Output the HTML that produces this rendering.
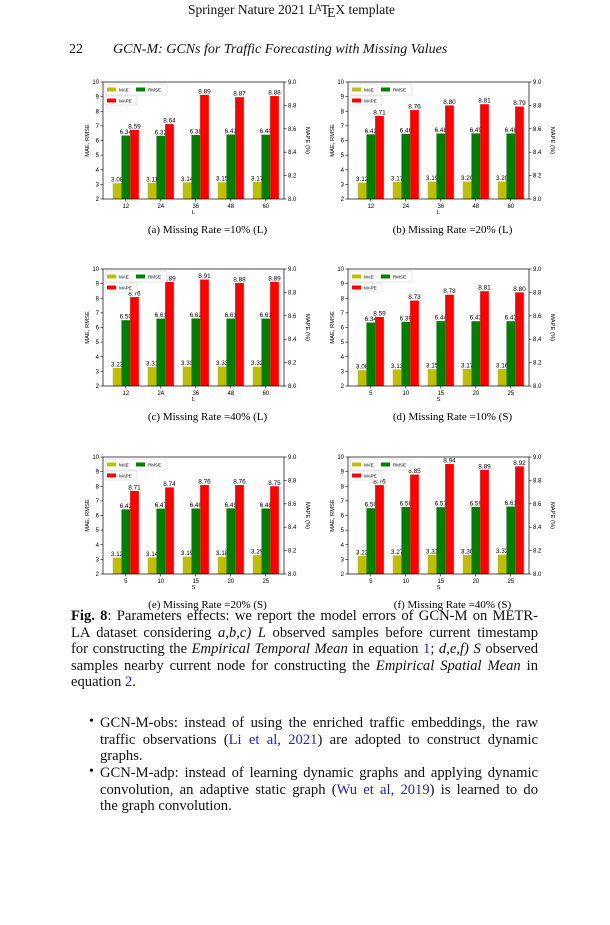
<!DOCTYPE html>
<html><head><meta charset="utf-8"><style>
html,body{margin:0;padding:0;background:#fff;}
body{width:610px;height:925px;position:relative;overflow:hidden;font-family:"Liberation Serif",serif;color:#111;}
.t{position:absolute;white-space:nowrap;}
.p{position:absolute;left:71px;width:467px;font-size:14.6px;line-height:16.5px;text-align:justify;}
.p span.l{display:block;text-align-last:justify;}
a{color:#2222cc;text-decoration:none;}
svg{position:absolute;left:0;top:0;}
</style></head><body>
<div class="t" style="left:188px;top:2px;font-size:13.5px;">Springer Nature 2021 L<span style="font-size:10px;position:relative;top:-3px;margin-left:-2px;margin-right:-1px">A</span>T<span style="position:relative;top:3px;margin-left:-2px">E</span>X template</div>
<div class="t" style="left:69px;top:42px;font-size:14px;">22</div>
<div class="t" style="left:113px;top:42px;font-size:14px;font-style:italic;">GCN-M: GCNs for Traffic Forecasting with Missing Values</div>
<svg id="s" width="610" height="925" font-family="Liberation Sans, sans-serif"></svg>
<div class="p" style="top:608px;">
<span class="l"><b>Fig. 8</b>: Parameters effects: we report the model errors of GCN-M on METR-</span>
<span class="l">LA dataset considering <i>a,b,c) L</i> observed samples before current timestamp</span>
<span class="l">for constructing the <i>Empirical Temporal Mean</i> in equation <a>1</a>; <i>d,e,f) S</i> observed</span>
<span class="l">samples nearby current node for constructing the <i>Empirical Spatial Mean</i> in</span>
<span>equation <a>2</a>.</span>
</div>
<div class="t" style="left:89px;top:714px;font-size:14px;">•</div>
<div class="p" style="top:715px;left:100px;width:438px;">
<span class="l">GCN-M-obs: instead of using the enriched traffic embeddings, the raw</span>
<span class="l">traffic observations (<a>Li et al, 2021</a>) are adopted to construct dynamic</span>
<span>graphs.</span></div>
<div class="t" style="left:89px;top:764px;font-size:14px;">•</div>
<div class="p" style="top:765px;left:100px;width:438px;">
<span class="l">GCN-M-adp: instead of learning dynamic graphs and applying dynamic</span>
<span class="l">convolution, an adaptive static graph (<a>Wu et al, 2019</a>) is learned to do</span>
<span>the graph convolution.</span></div>
<script>
const C=[
{x:103,y:82,t:[12,24,36,48,60],xl:'L',cap:'(a) Missing Rate =10% (L)',m:[3.08,3.11,3.14,3.15,3.17],r:[6.34,6.32,6.38,6.41,6.40],p:[8.59,8.64,8.89,8.87,8.88]},
{x:348,y:82,t:[12,24,36,48,60],xl:'L',cap:'(b) Missing Rate =20% (L)',m:[3.12,3.17,3.19,3.20,3.20],r:[6.42,6.46,6.48,6.49,6.48],p:[8.71,8.76,8.80,8.81,8.79]},
{x:103,y:269,t:[12,24,36,48,60],xl:'L',cap:'(c) Missing Rate =40% (L)',m:[3.23,3.31,3.33,3.33,3.32],r:[6.50,6.61,6.62,6.61,6.61],p:[8.76,8.89,8.91,8.88,8.89]},
{x:348,y:269,t:[5,10,15,20,25],xl:'S',cap:'(d) Missing Rate =10% (S)',m:[3.08,3.13,3.15,3.17,3.16],r:[6.34,6.39,6.44,6.43,6.43],p:[8.59,8.73,8.78,8.81,8.80]},
{x:103,y:457,t:[5,10,15,20,25],xl:'S',cap:'(e) Missing Rate =20% (S)',m:[3.12,3.14,3.19,3.18,3.29],r:[6.42,6.47,6.48,6.49,6.48],p:[8.71,8.74,8.76,8.76,8.75]},
{x:348,y:457,t:[5,10,15,20,25],xl:'S',cap:'(f) Missing Rate =40% (S)',m:[3.23,3.27,3.31,3.30,3.32],r:[6.50,6.58,6.57,6.59,6.61],p:[8.76,8.85,8.94,8.89,8.92]}];
let h='';const W=181,H=117,bw=8.7;
for(const c of C){
 const yl=v=>c.y+H-(v-2)/8*H, yr=v=>c.y+H-(v-8)*H;
 for(let i=0;i<5;i++){
  const g=c.x+22.8+35*i;
  const bars=[[c.m[i],yl(c.m[i]),'#bfbf00',g-bw*1.5],[c.r[i],yl(c.r[i]),'#008000',g-bw*0.5],[c.p[i],yr(c.p[i]),'#ff0000',g+bw*0.5]];
  for(const [v,y,col,x] of bars){
   h+=`<rect x="${x}" y="${y}" width="${bw}" height="${c.y+H-y}" fill="${col}"/>`;
   h+=`<text x="${x+bw/2}" y="${y-1.5}" font-size="6.4" text-anchor="middle">${v.toFixed(2)}</text>`;
  }
  h+=`<line x1="${g}" x2="${g}" y1="${c.y+H}" y2="${c.y+H+2.5}" stroke="#000" stroke-width="0.6"/>`;
  h+=`<text x="${g}" y="${c.y+H+9}" font-size="6" text-anchor="middle">${c.t[i]}</text>`;
 }
 for(let v=2;v<=10;v++){const y=yl(v);h+=`<line x1="${c.x-2.5}" x2="${c.x}" y1="${y}" y2="${y}" stroke="#000" stroke-width="0.6"/><text x="${c.x-4}" y="${y+2}" font-size="6" text-anchor="end">${v}</text>`;}
 for(let k=0;k<=5;k++){const v=8+k*0.2,y=yr(v);h+=`<line x1="${c.x+W}" x2="${c.x+W+2.5}" y1="${y}" y2="${y}" stroke="#000" stroke-width="0.6"/><text x="${c.x+W+4}" y="${y+2}" font-size="6">${v.toFixed(1)}</text>`;}
 h+=`<rect x="${c.x}" y="${c.y}" width="${W}" height="${H}" fill="none" stroke="#000" stroke-width="0.7"/>`;
 h+=`<text x="${c.x+W/2}" y="${c.y+H+15}" font-size="5.8" text-anchor="middle">${c.xl}</text>`;
 h+=`<text transform="translate(${c.x-14},${c.y+H/2}) rotate(-90)" font-size="5.8" text-anchor="middle">MAE, RMSE</text>`;
 h+=`<text transform="translate(${c.x+W+22},${c.y+H/2}) rotate(90)" font-size="5.8" text-anchor="middle">MAPE (%)</text>`;
 h+=`<rect x="${c.x+2}" y="${c.y+2}" width="62" height="11" fill="#fff" stroke="#ccc" stroke-width="0.5" rx="1"/>`;
 h+=`<rect x="${c.x+4}" y="${c.y+5.5}" width="9" height="4" fill="#bfbf00"/><text x="${c.x+16}" y="${c.y+9.5}" font-size="4.5">MAE</text>`;
 h+=`<rect x="${c.x+33}" y="${c.y+5.5}" width="9" height="4" fill="#008000"/><text x="${c.x+45}" y="${c.y+9.5}" font-size="4.5">RMSE</text>`;
 h+=`<rect x="${c.x+2}" y="${c.y+14}" width="32" height="9" fill="#fff" stroke="#ccc" stroke-width="0.5" rx="1"/>`;
 h+=`<rect x="${c.x+4}" y="${c.y+16.5}" width="9" height="4" fill="#ff0000"/><text x="${c.x+16}" y="${c.y+20.5}" font-size="4.5">MAPE</text>`;
 h+=`<text x="${c.x+W/2+14}" y="${c.y+H+34}" font-size="11" font-family="Liberation Serif, serif" text-anchor="middle">${c.cap}</text>`;
}
document.getElementById('s').innerHTML=h;
</script>
</body></html>
